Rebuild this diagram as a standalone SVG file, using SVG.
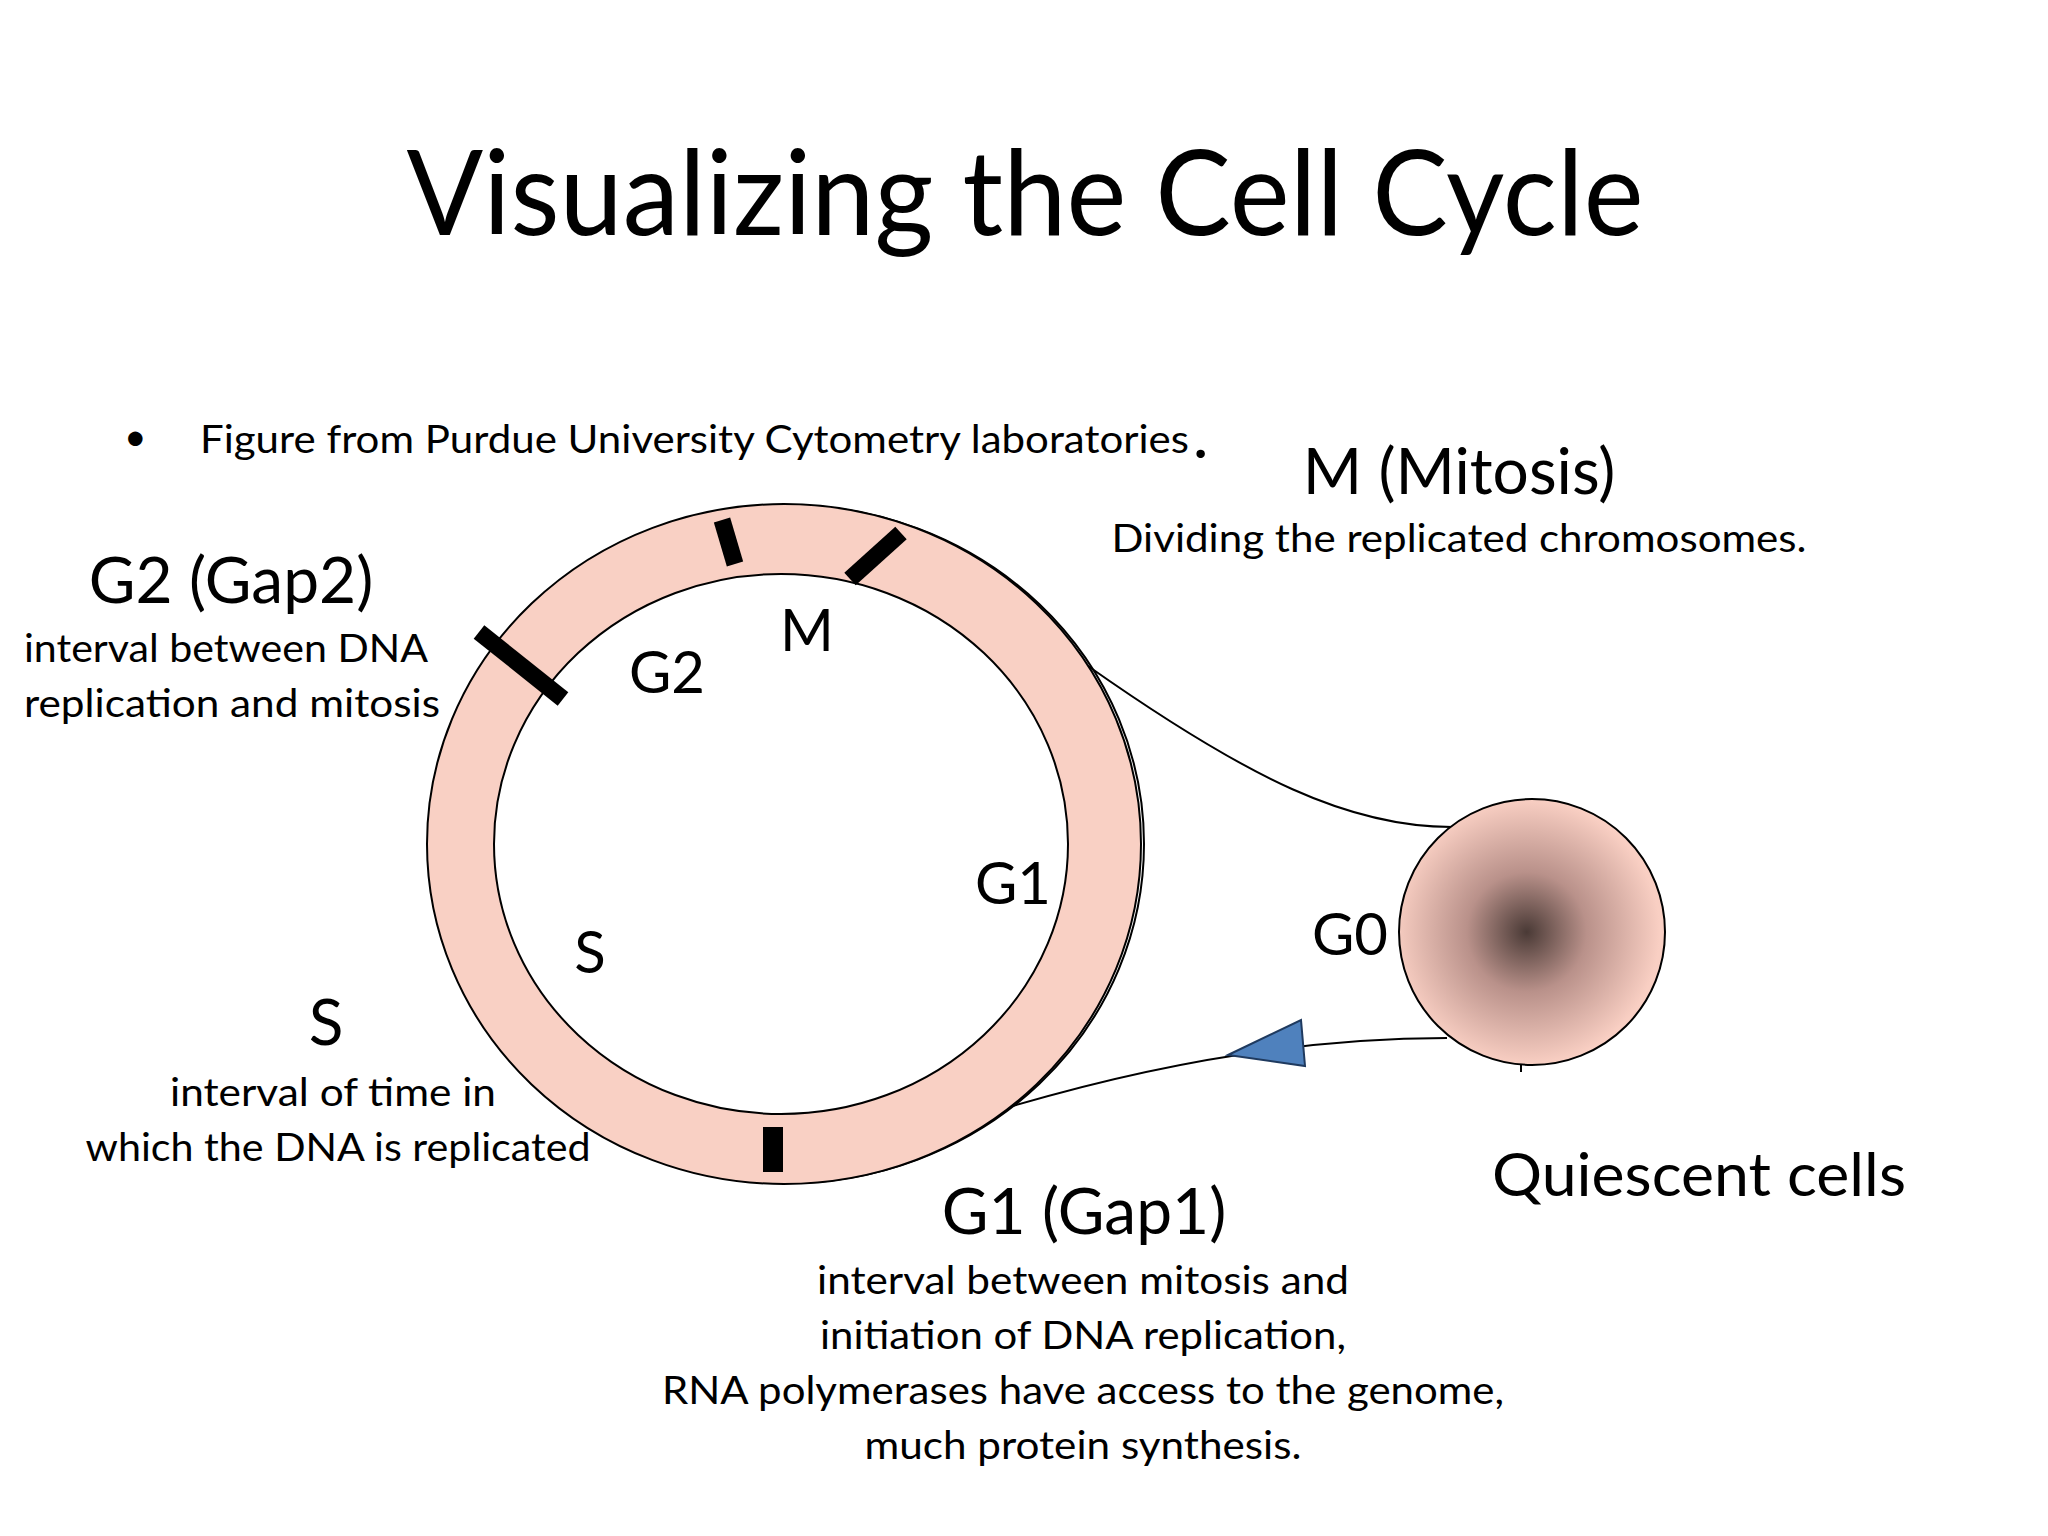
<svg xmlns="http://www.w3.org/2000/svg" width="2048" height="1536" viewBox="0 0 2048 1536">
<defs>
<style>
text{font-family:Lato,"Open Sans","Liberation Sans",sans-serif;fill:#000}
.t39{font-size:39px}
.t65{font-size:64px}
.c{text-anchor:middle}
.bar{stroke:#000;stroke-width:17;fill:none}
.ln{stroke:#000;stroke-width:2;fill:none}
</style>
<radialGradient id="g0" cx="0.48" cy="0.5" r="0.5">
<stop offset="0" stop-color="#4a3a36"/>
<stop offset="0.45" stop-color="#b9918a"/>
<stop offset="1" stop-color="#f9cfc3"/>
</radialGradient>
</defs>
<rect width="2048" height="1536" fill="#fff"/>
<text x="1025" y="235" class="c" style="font-size:118px" textLength="1237" lengthAdjust="spacingAndGlyphs">Visualizing the Cell Cycle</text>
<text x="124" y="450" class="t39">•</text>
<text x="200" y="453" class="t39" textLength="989" lengthAdjust="spacingAndGlyphs">Figure from Purdue University Cytometry laboratories</text>
<text x="1194" y="458" style="font-size:56px;font-weight:bold">.</text>
<g id="connectors">
<path class="ln" d="M1088,666 C1250,780 1350,827 1452,827"/>
<path class="ln" d="M1006,1108 C1150,1065 1300,1038 1447,1038"/>
<polygon points="1228,1055 1301,1020 1305,1066" fill="#4f81bd" stroke="#1f3a5f" stroke-width="2"/>
<line class="ln" x1="1521" y1="1064" x2="1521" y2="1072"/>
</g>
<g id="cycle">
<ellipse cx="787" cy="844" rx="357" ry="339" fill="none" stroke="#000" stroke-width="2"/>
<ellipse cx="784" cy="844" rx="357" ry="340" fill="#f9d0c4" stroke="#000" stroke-width="2"/>
<ellipse cx="781" cy="844" rx="287" ry="270" fill="#fff" stroke="#000" stroke-width="2"/>
<line class="bar" x1="722" y1="520" x2="735" y2="564"/>
<line class="bar" x1="901" y1="533" x2="850" y2="579"/>
<line class="bar" x1="479" y1="632" x2="563" y2="699"/>
<line class="bar" x1="773" y1="1127" x2="773" y2="1172" style="stroke-width:20"/>
<text x="807" y="651" class="t65 c" style="font-size:58px">M</text>
<text x="667" y="693" class="t65 c" style="font-size:58px">G2</text>
<text x="1013" y="904" class="t65 c" style="font-size:58px">G1</text>
<text x="590" y="973" class="t65 c" style="font-size:58px">S</text>
</g>
<g id="g0node">
<circle cx="1532" cy="932" r="133" fill="url(#g0)" stroke="#000" stroke-width="2"/>
<text x="1350" y="955" class="c" style="font-size:58px">G0</text>
</g>
<g id="labels">
<text x="1459" y="494" class="t65 c">M (Mitosis)</text>
<text x="1459" y="552" class="t39 c" textLength="695" lengthAdjust="spacingAndGlyphs">Dividing the replicated chromosomes.</text>
<text x="231" y="603" class="t65 c">G2 (Gap2)</text>
<text x="24" y="662" class="t39" textLength="404" lengthAdjust="spacingAndGlyphs">interval between DNA</text>
<text x="24" y="717" class="t39" textLength="416" lengthAdjust="spacingAndGlyphs">replication and mitosis</text>
<text x="326" y="1045" class="t65 c">S</text>
<text x="333" y="1106" class="t39 c" textLength="326" lengthAdjust="spacingAndGlyphs">interval of time in</text>
<text x="338" y="1161" class="t39 c" textLength="505" lengthAdjust="spacingAndGlyphs">which the DNA is replicated</text>
<text x="1699" y="1196" class="c" style="font-size:60px" textLength="414" lengthAdjust="spacingAndGlyphs">Quiescent cells</text>
<text x="1084" y="1234" class="t65 c">G1 (Gap1)</text>
<text x="1083" y="1294" class="t39 c" textLength="532" lengthAdjust="spacingAndGlyphs">interval between mitosis and</text>
<text x="1083" y="1349" class="t39 c" textLength="526" lengthAdjust="spacingAndGlyphs">initiation of DNA replication,</text>
<text x="1083" y="1404" class="t39 c" textLength="842" lengthAdjust="spacingAndGlyphs">RNA polymerases have access to the genome,</text>
<text x="1083" y="1459" class="t39 c" textLength="437" lengthAdjust="spacingAndGlyphs">much protein synthesis.</text>
</g>
</svg>
